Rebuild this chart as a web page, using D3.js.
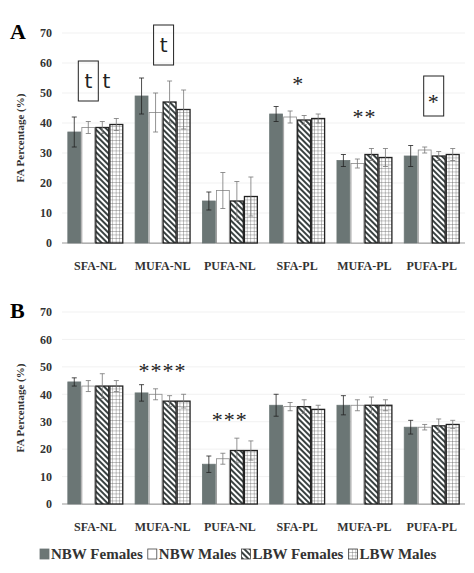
<!DOCTYPE html>
<html><head><meta charset="utf-8">
<script src="https://cdn.jsdelivr.net/npm/d3@7"></script>
<style>body{margin:0;background:#fff}text{font-family:"Liberation Serif",serif;font-weight:bold}</style>
</head><body>
<svg id="c" width="474" height="573"></svg>
<script>
var categories = ["SFA-NL","MUFA-NL","PUFA-NL","SFA-PL","MUFA-PL","PUFA-PL"];
var groups = ["NBW Females","NBW Males","LBW Females","LBW Males"];
var yTicks = [0,10,20,30,40,50,60,70];
// panel A means / errors, per category, per group
var meanA = [[37,38.5,38.5,39.5],[49,43.5,47,44.5],[14,17.5,14,15.5],[43,42,41,41.5],[27.5,26.5,29.5,28.5],[29,31,29,29.5]];
var errA  = [[5,2,2,2],[6,6.5,7,6.5],[3,6,6.5,6.5],[2.5,2,1.5,1.5],[2,1.5,2,3],[3.5,1,1.5,2]];
var meanB = [[44.5,43,43,43],[40.5,40,37.5,37.5],[14.5,16.5,19.5,19.5],[36,35.5,35.5,34.5],[36,36,36,36],[28,28,28.5,29]];
var errB  = [[1.5,2,4.5,2],[3,2,2,2.5],[3,2,4.5,3.5],[4,1.5,2.5,1.5],[3.5,2,3,2],[2.5,1,2.5,1.5]];
// annotations: category index, offset within band, value height, text, boxed
var notesA = [{c:0,dx:-7,v:57,t:"t",box:true},{c:0,dx:11,v:57,t:"t",box:false},{c:1,dx:1,v:69,t:"t",box:true},
  {c:3,dx:1,v:58,t:"*",box:false},{c:4,dx:0,v:47,t:"**",box:false},{c:5,dx:2,v:52,t:"*",box:true}];
var notesB = [{c:1,dx:0,v:54,t:"****",box:false},{c:2,dx:0,v:36,t:"***",box:false}];

var svg = d3.select("#c");
var defs = svg.append("defs");
var diag = defs.append("pattern").attr("id","diag").attr("patternUnits","userSpaceOnUse")
  .attr("width",4).attr("height",4).attr("patternTransform","rotate(-45)");
diag.append("rect").attr("width",4).attr("height",4).attr("fill","#fff");
diag.append("rect").attr("width",2).attr("height",4).attr("fill","#3a4242");
var grid = defs.append("pattern").attr("id","grid").attr("patternUnits","userSpaceOnUse").attr("width",3.5).attr("height",3.5);
grid.append("rect").attr("width",3.5).attr("height",3.5).attr("fill","#fff");
grid.append("path").attr("d","M0,0H3.5M0,0V3.5").attr("stroke","#555").attr("stroke-width",0.7);
var fills = ["#6b7675","#fff","url(#diag)","url(#grid)"];

var x = d3.scaleBand().domain(categories).range([62,465]).paddingInner(0.15).paddingOuter(0.07);
var xi = d3.scaleBand().domain(groups).range([0,x.bandwidth()]).padding(0.08);

function panel(label, top, bottom, means, errs, notes) {
  var y = d3.scaleLinear().domain([0,70]).range([bottom,top]);
  var g = svg.append("g");
  g.selectAll(".gl").data(yTicks.slice(1)).join("line").attr("x1",62).attr("x2",465)
    .attr("y1",d=>y(d)).attr("y2",d=>y(d)).attr("stroke","#eee").attr("stroke-width",0.8);
  var ax = g.append("g").attr("transform","translate(62,0)")
    .call(d3.axisLeft(y).tickValues(yTicks).tickSize(0).tickPadding(10));
  ax.select(".domain").remove();
  ax.selectAll("text").attr("font-size",12).attr("fill","#333").attr("font-family","Liberation Serif");
  g.append("line").attr("x1",62).attr("x2",465).attr("y1",y(0)).attr("y2",y(0)).attr("stroke","#999");
  g.append("text").attr("x",10).attr("y",top+6).attr("font-size",22).text(label);
  g.append("text").attr("transform","translate(24,"+((top+bottom)/2)+") rotate(-90)")
    .attr("text-anchor","middle").attr("font-size",11).attr("fill","#333").text("FA Percentage (%)");
  categories.forEach(function(c,ci){
    var cg = g.append("g").attr("transform","translate("+x(c)+",0)");
    groups.forEach(function(s,si){
      var m = means[ci][si], e = errs[ci][si], bx = xi(s), w = xi.bandwidth();
      cg.append("rect").attr("x",bx).attr("y",y(m)).attr("width",w).attr("height",y(0)-y(m))
        .attr("fill",fills[si]).attr("stroke",si==0?"#6b7675":(si==1?"#888":"#222")).attr("stroke-width",si>=2?1.3:0.8);
      var cx = bx+w/2;
      cg.append("path").attr("d","M"+cx+","+y(m-e)+"V"+y(m+e)+"M"+(cx-2.5)+","+y(m+e)+"H"+(cx+2.5)+"M"+(cx-2.5)+","+y(m-e)+"H"+(cx+2.5))
        .attr("stroke",si==0?"#222":"#777").attr("stroke-width",0.8).attr("fill","none");
    });
    g.append("text").attr("x",x(c)+x.bandwidth()/2).attr("y",bottom+27).attr("text-anchor","middle")
      .attr("font-size",12).attr("fill","#333").text(c);
  });
  notes.forEach(function(n){
    var cx = x(categories[n.c])+x.bandwidth()/2+n.dx, cy = y(n.v);
    if (n.box) g.append("rect").attr("x",cx-10).attr("y",cy-11).attr("width",20).attr("height",40)
      .attr("fill","none").attr("stroke","#222").attr("stroke-width",1);
    g.append("text").attr("x",cx).attr("y",cy+(n.t=="t"?16:22)).attr("text-anchor","middle")
      .style("font-size",(n.t=="t"?20:22)+"px").style("font-weight","normal")
      .style("font-family",n.t=="t"?"DejaVu Sans":"Liberation Serif")
      .style("letter-spacing",n.t=="t"?"0":"1px")
      .attr("fill","#222").text(n.t);
  });
}
panel("A",33,243,meanA,errA,notesA);
panel("B",312,504,meanB,errB,notesB);

var lg = svg.append("g").attr("transform","translate(40,559)");
var lx = 0;
groups.forEach(function(s,si){
  var it = lg.append("g").attr("transform","translate("+lx+",0)");
  it.append("rect").attr("x",0).attr("y",-10).attr("width",9).attr("height",10).attr("fill",fills[si])
    .attr("stroke",si==0?"#6b7675":"#444").attr("stroke-width",0.8);
  var t = it.append("text").attr("x",11).attr("y",0).attr("font-size",15).attr("fill","#333").text(s);
  lx += 11 + t.node().getComputedTextLength() + 5;
});
</script>
</body></html>
